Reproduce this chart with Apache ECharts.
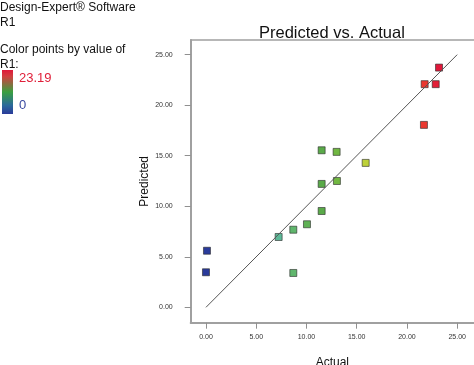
<!DOCTYPE html>
<html><head><meta charset="utf-8">
<script src="https://cdn.jsdelivr.net/npm/echarts@6/dist/echarts.min.js"></script>
<style>html,body{margin:0;padding:0;background:#fff}#c{width:474px;height:365px}</style>
</head><body><div id="c"></div>
<script>
const actual    = [23.19, 21.76, 22.86, 21.69, 11.51, 13.00, 15.89, 11.51, 13.03, 11.51, 10.05, 8.69, 7.23, 0.10, 0.00, 8.69];
const predicted = [23.72, 22.08, 22.08, 18.05, 15.54, 15.38, 14.29, 12.21, 12.50, 9.53, 8.22, 7.68, 6.96, 5.60, 3.47, 3.40];
const tickValues = [0, 5, 10, 15, 20, 25];
const refLine = [0, 25];
const colorMin = 0, colorMax = 23.19;

const FONT = 'Liberation Sans, Arial, sans-serif';
const chart = echarts.init(document.getElementById('c'), null, {renderer: 'canvas'});
const axisBase = {
  type: 'value',
  axisLine: {show: true, onZero: false, lineStyle: {color: '#a0a0a0', width: 2}},
  axisTick: {show: true, length: 6, customValues: tickValues, lineStyle: {color: '#909090', width: 1}},
  axisLabel: {customValues: tickValues, fontFamily: FONT, fontSize: 7, color: '#333',
    formatter: v => v.toFixed(2)},
  splitLine: {show: false},
  nameLocation: 'middle',
  nameMoveOverlap: false,
  nameTextStyle: {fontFamily: FONT, fontSize: 12, color: '#111'}
};
chart.setOption({
  animation: false,
  title: {text: 'Predicted vs. Actual', left: 254, top: 20,
    textStyle: {fontFamily: FONT, fontSize: 16.5, fontWeight: 'normal', color: '#111'}},
  grid: {left: 190.7, top: 40, right: 0, bottom: 42.3, containLabel: false, outerBoundsMode: 'none'},
  xAxis: [
    Object.assign({}, axisBase, {min: -1.52, max: 26.67, name: 'Actual', nameGap: 34,
      axisLabel: Object.assign({}, axisBase.axisLabel, {margin: 11})}),
    {type: 'value', position: 'top', min: -1.52, max: 26.67,
      axisLine: {show: true, onZero: false, lineStyle: {color: '#a0a0a0', width: 1.5}},
      axisTick: {show: false}, axisLabel: {show: false}, splitLine: {show: false}}
  ],
  yAxis: Object.assign({}, axisBase, {min: -1.52, max: 26.45, name: 'Predicted', nameGap: 40,
    axisLabel: Object.assign({}, axisBase.axisLabel, {margin: 18})}),
  visualMap: {show: false, type: 'continuous', dimension: 0, seriesIndex: 1,
    min: colorMin, max: colorMax,
    inRange: {color: ['#2a3a9a','#2e5aa8','#3c86b0','#5cbaa0','#62b55c','#5aaa48','#7fbf3c','#c8d438','#f09a30','#f04a2a','#e0183a']}},
  series: [
    {type: 'line', xAxisIndex: 0, data: refLine.map(v => [v, v]), symbol: 'none',
      lineStyle: {color: '#555', width: 1}, silent: true},
    {type: 'scatter', xAxisIndex: 0, symbol: 'rect', symbolSize: 7,
      itemStyle: {opacity: 1, borderColor: 'rgba(40,40,40,0.6)', borderWidth: 1},
      data: actual.map((a, i) => [a, predicted[i]])}
  ],
  graphic: [
    {type: 'text', left: 0, top: 0, style: {text: 'Design-Expert® Software\nR1', font: '12px ' + FONT, fill: '#111', lineHeight: 15}},
    {type: 'text', left: 0, top: 42, style: {text: 'Color points by value of\nR1:', font: '12px ' + FONT, fill: '#111', lineHeight: 15}},
    {type: 'rect', shape: {x: 2, y: 70, width: 11, height: 44},
      style: {fill: new echarts.graphic.LinearGradient(0, 0, 0, 1, [
        {offset: 0, color: '#e0183a'}, {offset: 0.15, color: '#d04040'}, {offset: 0.5, color: '#3aa040'},
        {offset: 0.8, color: '#2a6a9a'}, {offset: 1, color: '#2a3a9a'}])}},
    {type: 'text', left: 19, top: 72, style: {text: String(colorMax), font: '13px ' + FONT, fill: '#e0203a'}},
    {type: 'text', left: 19, top: 99, style: {text: String(colorMin), font: '13px ' + FONT, fill: '#3a4aa0'}}
  ]
});
</script></body></html>
